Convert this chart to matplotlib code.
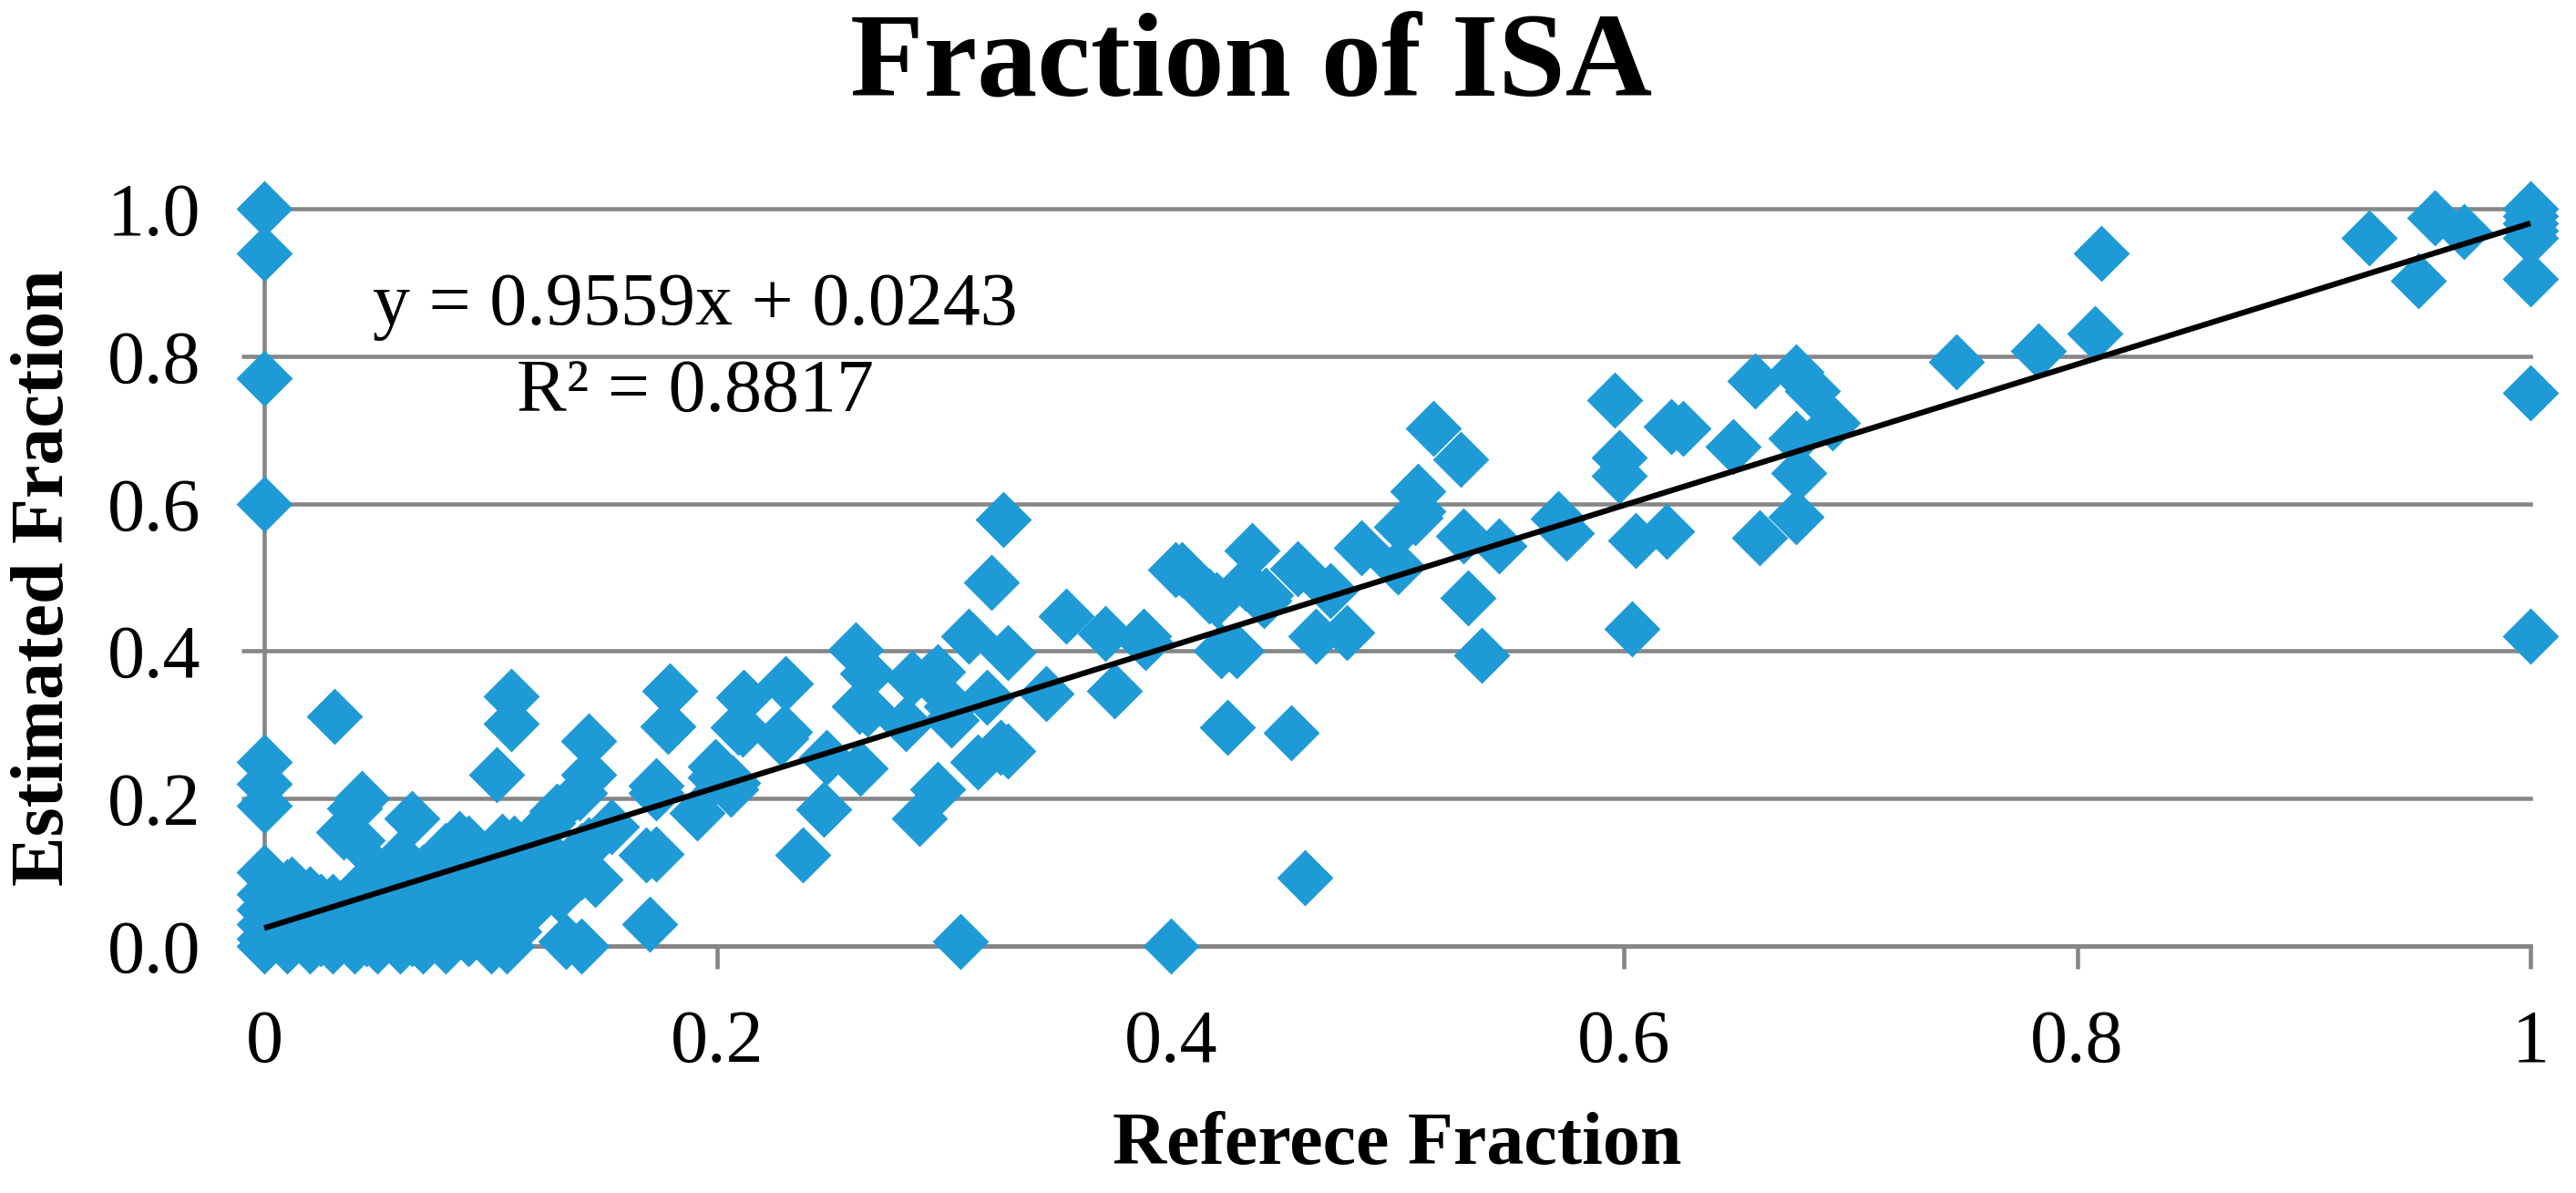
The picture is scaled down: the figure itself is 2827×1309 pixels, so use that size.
import numpy as np
import matplotlib
matplotlib.use("Agg")
import matplotlib.pyplot as plt

plt.rcParams['font.family'] = ['Liberation Serif', 'DejaVu Serif']

# reference fraction (x)
ref_x = [
    # column at x = 0
    0, 0, 0, 0, 0, 0, 0, 0, 0, 0, 0, 0, 0,
    # dense cluster near origin
    0.01, 0.01, 0.01, 0.01, 0.01,
    0.02, 0.02, 0.02, 0.02,
    0.025, 0.025,
    0.03, 0.03, 0.03, 0.03,
    0.04, 0.04, 0.04, 0.04,
    0.045,
    0.05, 0.05, 0.05, 0.05, 0.05,
    0.06, 0.06, 0.06, 0.06, 0.06,
    0.065,
    0.07, 0.07, 0.07, 0.07,
    0.08, 0.08, 0.08, 0.08, 0.08, 0.08,
    0.09, 0.09, 0.09, 0.09, 0.09,
    0.10, 0.10, 0.10, 0.10, 0.10,
    0.11, 0.11, 0.11, 0.11, 0.11,
    0.12, 0.12, 0.12, 0.12,
    0.13, 0.13, 0.131,
    0.14, 0.14, 0.143,
    0.012, 0.02,
    # low-left scatter
    0.031, 0.043, 0.040, 0.065, 0.041, 0.035,
    0.086, 0.105, 0.1026, 0.109, 0.109,
    0.125, 0.129, 0.139, 0.143, 0.143, 0.146,
    0.153, 0.173, 0.1685, 0.170, 0.133, 0.14, 0.107,
    0.179, 0.178, 0.173, 0.173,
    0.191, 0.199, 0.199, 0.206, 0.2066,
    0.2115, 0.211, 0.209, 0.230, 0.228, 0.2296,
    0.2377, 0.247, 0.248, 0.263,
    # middle band
    0.261, 0.2626, 0.266, 0.266, 0.283,
    0.289, 0.297, 0.294, 0.286, 0.297, 0.303, 0.303, 0.311, 0.319,
    0.307, 0.315, 0.325, 0.328, 0.326, 0.321, 0.328,
    0.345, 0.354, 0.371, 0.375, 0.388, 0.389,
    0.400, 0.402, 0.405, 0.417, 0.42, 0.422, 0.429, 0.425, 0.433,
    0.436, 0.441, 0.442, 0.453, 0.456, 0.459, 0.464, 0.4705, 0.4775,
    0.484, 0.50, 0.502, 0.509, 0.509, 0.508, 0.516, 0.528, 0.529, 0.531, 0.537, 0.545,
    0.571, 0.5745, 0.596, 0.598, 0.598, 0.6035, 0.605, 0.619, 0.621, 0.626, 0.648,
    0.658, 0.66, 0.676, 0.683, 0.692, 0.676, 0.677, 0.676,
    # upper right
    0.7467, 0.783, 0.808, 0.8105,
    0.9287, 0.9505, 0.9577, 0.9707,
    1.0, 1.0, 1.0, 1.0, 1.0, 1.0, 1.0, 1.0,
]

# estimated fraction (y)
est_y = [
    1.0, 0.94, 0.77, 0.60, 0.25, 0.22, 0.19, 0.10, 0.07, 0.05, 0.03, 0.01, 0.0,
    0.0, 0.02, 0.04, 0.06, 0.08,
    0.0, 0.03, 0.05, 0.07,
    0.01, 0.06,
    0.0, 0.02, 0.04, 0.06,
    0.0, 0.03, 0.05, 0.07,
    0.01,
    0.0, 0.02, 0.05, 0.08, 0.10,
    0.0, 0.03, 0.06, 0.09, 0.12,
    0.01,
    0.0, 0.04, 0.07, 0.10,
    0.0, 0.02, 0.05, 0.08, 0.11, 0.13,
    0.01, 0.04, 0.07, 0.10, 0.14,
    0.0, 0.03, 0.06, 0.09, 0.12,
    0.02, 0.05, 0.08, 0.11, 0.14,
    0.06, 0.10, 0.13, 0.063,
    0.07, 0.11, 0.088,
    0.10, 0.13, 0.137,
    0.084, 0.07,
    0.312, 0.20, 0.187, 0.173, 0.144, 0.154,
    0.146, 0.142, 0.232, 0.339, 0.302,
    0.167, 0.183, 0.208, 0.278, 0.232, 0.09,
    0.162, 0.125, 0.124, 0.03, 0.006, 0.0, 0.0,
    0.346, 0.298, 0.208, 0.218,
    0.18, 0.229, 0.243, 0.213, 0.221,
    0.338, 0.294, 0.297, 0.356, 0.282, 0.291,
    0.124, 0.185, 0.256, 0.241,
    0.402, 0.325, 0.369, 0.322, 0.302,
    0.173, 0.213, 0.363, 0.363, 0.372, 0.325, 0.307, 0.42, 0.338,
    0.006, 0.25, 0.269, 0.265, 0.579, 0.493, 0.398,
    0.342, 0.448, 0.424, 0.346, 0.42, 0.412,
    0.0, 0.511, 0.511, 0.475, 0.47, 0.40, 0.40, 0.297, 0.492,
    0.537, 0.468, 0.476, 0.289, 0.512, 0.093, 0.42, 0.482, 0.425,
    0.54, 0.514, 0.568, 0.617, 0.589, 0.581, 0.702, 0.66, 0.556, 0.472, 0.394, 0.543,
    0.58, 0.56, 0.74, 0.662, 0.638, 0.43, 0.55, 0.563, 0.704, 0.702, 0.677,
    0.766, 0.554, 0.779, 0.753, 0.709, 0.688, 0.642, 0.582,
    0.792, 0.807, 0.831, 0.94,
    0.96, 0.902, 0.988, 0.969,
    1.0, 0.99, 0.98, 0.97, 0.96, 0.905, 0.75, 0.42,
]

# linear trendline reported on the chart
slope = 0.9559
intercept = 0.0243
eq_text = "y = 0.9559x + 0.0243"
r2_text = "R² = 0.8817"

x_ticks = [0, 0.2, 0.4, 0.6, 0.8, 1.0]
x_ticklabels = ["0", "0.2", "0.4", "0.6", "0.8", "1"]
y_ticks = [0.0, 0.2, 0.4, 0.6, 0.8, 1.0]
y_ticklabels = ["0.0", "0.2", "0.4", "0.6", "0.8", "1.0"]

blue = "#1E9BD7"
gray = "#868686"

W, H = 2827, 1309
fig = plt.figure(figsize=(W / 100, H / 100), dpi=100)
ax = fig.add_axes([290 / W, 1 - 1038 / H, 2487 / W, 809 / H])

ax.scatter(ref_x, est_y, marker="D", s=31.5 ** 2, color=blue,
           linewidths=0, zorder=3, clip_on=False)

xs = np.array([0.0, 1.0])
ax.plot(xs, np.polyval([slope, intercept], xs), color="black", lw=4.5,
        zorder=4, clip_on=False, solid_capstyle="butt")

ax.set_xlim(0, 1)
ax.set_ylim(0, 1)
ax.set_xticks(x_ticks)
ax.set_xticklabels(x_ticklabels)
ax.set_yticks(y_ticks)
ax.set_yticklabels(y_ticklabels)

ax.set_axisbelow(True)
ax.yaxis.grid(True, color=gray, lw=3.3)
for gl in ax.get_ygridlines():
    gl.set_clip_on(False)

for side in ["top", "right"]:
    ax.spines[side].set_visible(False)
for side in ["left", "bottom"]:
    ax.spines[side].set_color(gray)
    ax.spines[side].set_linewidth(3.3)

ax.tick_params(axis="both", direction="out", length=18, width=3.3,
               color=gray, labelsize=59, pad=32)

ax.set_xlabel("Referece Fraction", fontsize=59, fontweight="bold", labelpad=27)
ax.set_ylabel("Estimated Fraction", fontsize=59, fontweight="bold", labelpad=22)

fig.text(1373 / W, 1 - 104 / H, "Fraction of ISA", ha="center",
         va="baseline", fontsize=95, fontweight="bold")
fig.text(763 / W, 1 - 356 / H, eq_text, ha="center", va="baseline", fontsize=59)
fig.text(763 / W, 1 - 452 / H, r2_text, ha="center", va="baseline", fontsize=59)

fig.savefig("out.png", dpi=100)
